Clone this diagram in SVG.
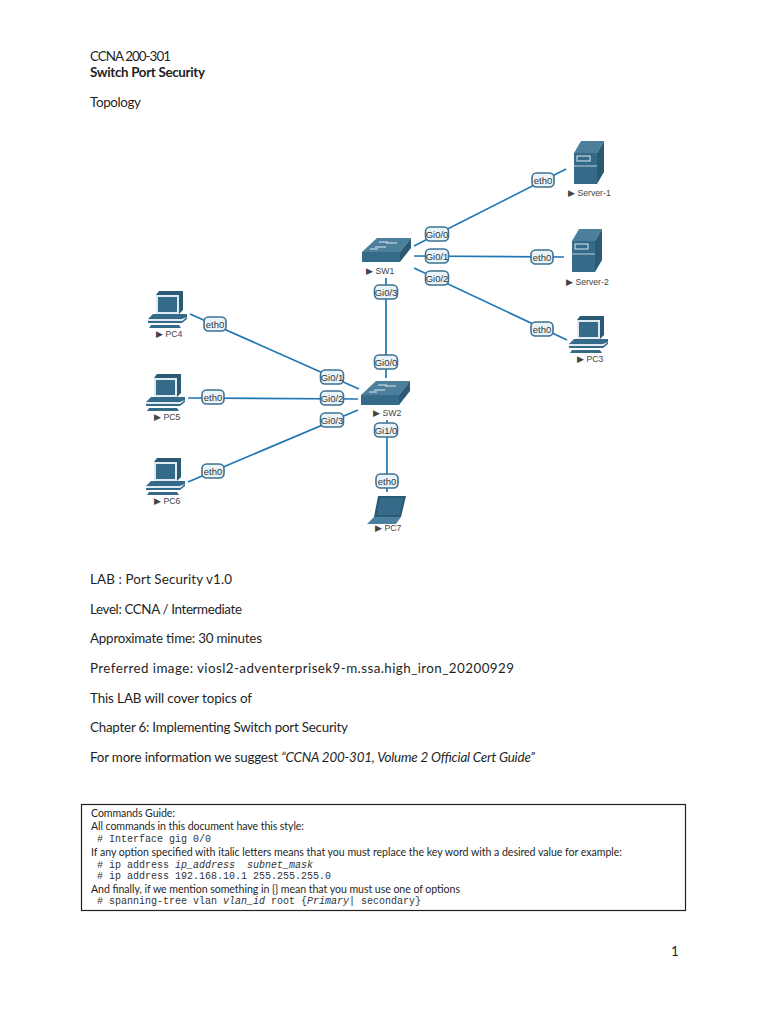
<svg xmlns="http://www.w3.org/2000/svg" width="768" height="1024" viewBox="0 0 768 1024">
<style>
text{font-family:Lato,"Liberation Sans",sans-serif;fill:#1f1f1f}
.d{font-size:13.4px}
.g{font-size:10.6px}
.m{font-family:"Liberation Mono",monospace;font-size:10px;fill:#333;white-space:pre}
.c line{stroke:#1f77b4;stroke-width:1.7}
.l rect{fill:#e8f3fa;stroke:#3f7191;stroke-width:1.6}
.l text{font-family:"Liberation Sans",sans-serif;font-size:9.5px;fill:#333;text-anchor:middle}
.n{font-family:"Liberation Sans",sans-serif;font-size:8.700px;fill:#444}
.k{fill:#356b89}.h{fill:#4b7f9c}.w{fill:#dfeaf1}.e{fill:#2b5a75}
</style>
<defs>
<symbol id="sw" overflow="visible"><path class="h" d="M0 14L15 0H49L38 14Z"/><path class="k" d="M0 14H38V24H0Z"/><path class="e" d="M38 14L49 0V10L38 24Z"/><path d="M13 9h11M24 5h11M17 4h9M8 11h8" stroke="#dfeaf1" stroke-width="1" fill="none"/></symbol>
<symbol id="srv" overflow="visible"><path class="h" d="M0 12L7 0H30L23 12Z"/><path class="e" d="M23 12L30 0V31L23 43Z"/><path class="k" d="M0 12H23V43H0Z"/><rect x="3" y="15" width="13" height="5" fill="#356b89" stroke="#dfeaf1"/><path d="M0 25H23" stroke="#dfeaf1" stroke-width=".8"/></symbol>
<symbol id="pc" overflow="visible"><path class="e" d="M8 5L11 1H35V20L31 24H8Z"/><path class="w" d="M8 5H31V24H8Z"/><rect x="10" y="7" width="19" height="15" class="k"/><path class="k" d="M0 29L5 24H39V27L34 29Z"/><path class="w" d="M0 29H34V31H0Z"/><path class="k" d="M0 31H34L39 27V29L34 33H0Z"/><path class="k" d="M3 35H31L33 38H1Z"/></symbol>
<symbol id="lap" overflow="visible"><path class="e" d="M11 2H39L34 23H7Z"/><path class="k" d="M13 4H36L32 21H10Z"/><path class="h" d="M7 23H34L29 30H0Z"/></symbol>
</defs>
<rect width="768" height="1024" fill="#fff"/>
<g id="page-text">
<text class="d" x="90" y="61" textLength="81">CCNA 200-301</text>
<text class="d" x="90" y="77" textLength="115" font-weight="700">Switch Port Security</text>
<text class="d" x="90" y="107" textLength="51">Topology</text>
<text class="d" x="90" y="583.500" textLength="142">LAB : Port Security v1.0</text>
<text class="d" x="90" y="613.500" textLength="152">Level: CCNA / Intermediate</text>
<text class="d" x="90" y="642.500" textLength="172">Approximate time: 30 minutes</text>
<text class="d" x="90" y="672.500" textLength="424">Preferred image: viosl2-adventerprisek9-m.ssa.high_iron_20200929</text>
<text class="d" x="90" y="702.500" textLength="162">This LAB will cover topics of</text>
<text class="d" x="90" y="731.500" textLength="258">Chapter 6: Implementing Switch port Security</text>
<text class="d" x="90" y="761.500" textLength="445">For more information we suggest <tspan font-style="italic">“CCNA 200-301, Volume 2 Official Cert Guide”</tspan></text>
<text class="d" x="671" y="956">1</text>
</g>
<g id="connectors" class="c">
<line x1="414" y1="246" x2="566" y2="169"/>
<line x1="414" y1="256" x2="564" y2="257"/>
<line x1="414" y1="268" x2="567" y2="340"/>
<line x1="386" y1="278" x2="386" y2="378"/>
<line x1="190" y1="314" x2="359" y2="389"/>
<line x1="188" y1="398" x2="358" y2="399"/>
<line x1="188" y1="482" x2="358" y2="410"/>
<line x1="387" y1="420" x2="387" y2="492"/>
</g>
<g id="SW1"><use href="#sw" x="362" y="238"/><text class="n" x="366" y="274">▶ SW1</text></g>
<g id="SW2"><use href="#sw" x="361" y="381"/><text class="n" x="373" y="416">▶ SW2</text></g>
<g id="Server-1"><use href="#srv" x="574" y="141"/><text class="n" x="568" y="196">▶ Server-1</text></g>
<g id="Server-2"><use href="#srv" x="572" y="229"/><text class="n" x="566" y="285">▶ Server-2</text></g>
<g id="PC3"><use href="#pc" x="569" y="315"/><text class="n" x="577" y="362">▶ PC3</text></g>
<g id="PC4"><use href="#pc" x="148" y="290"/><text class="n" x="156" y="337">▶ PC4</text></g>
<g id="PC5"><use href="#pc" x="146" y="373"/><text class="n" x="154" y="420">▶ PC5</text></g>
<g id="PC6"><use href="#pc" x="146" y="457"/><text class="n" x="154" y="504">▶ PC6</text></g>
<g id="PC7"><use href="#lap" x="367" y="494"/><text class="n" x="375" y="531">▶ PC7</text></g>
<g id="labels" class="l">
<g><rect x="425.500" y="227" width="23" height="14" rx="4.500"/><text x="437" y="237.500">Gi0/0</text></g>
<g><rect x="425.500" y="249" width="23" height="14" rx="4.500"/><text x="437" y="259.500">Gi0/1</text></g>
<g><rect x="425.500" y="271" width="23" height="14" rx="4.500"/><text x="437" y="281.500">Gi0/2</text></g>
<g><rect x="374.500" y="285" width="23" height="14" rx="4.500"/><text x="386" y="295.500">Gi0/3</text></g>
<g><rect x="374.500" y="355" width="23" height="14" rx="4.500"/><text x="386" y="365.500">Gi0/0</text></g>
<g><rect x="320.500" y="370" width="23" height="14" rx="4.500"/><text x="332" y="380.500">Gi0/1</text></g>
<g><rect x="320.500" y="391" width="23" height="14" rx="4.500"/><text x="332" y="401.500">Gi0/2</text></g>
<g><rect x="320.500" y="413" width="23" height="14" rx="4.500"/><text x="332" y="423.500">Gi0/3</text></g>
<g><rect x="374.500" y="423" width="23" height="14" rx="4.500"/><text x="386" y="433.500">Gi1/0</text></g>
<g><rect x="532" y="173" width="22" height="14" rx="4.500"/><text x="543" y="183.500">eth0</text></g>
<g><rect x="531" y="250" width="22" height="14" rx="4.500"/><text x="542" y="260.500">eth0</text></g>
<g><rect x="531" y="322" width="22" height="14" rx="4.500"/><text x="542" y="332.500">eth0</text></g>
<g><rect x="204" y="317" width="22" height="14" rx="4.500"/><text x="215" y="327.500">eth0</text></g>
<g><rect x="202" y="390" width="22" height="14" rx="4.500"/><text x="213" y="400.500">eth0</text></g>
<g><rect x="202" y="464" width="22" height="14" rx="4.500"/><text x="213" y="474.500">eth0</text></g>
<g><rect x="376" y="474" width="22" height="14" rx="4.500"/><text x="387" y="484.500">eth0</text></g>
</g>
<g id="commands-guide">
<rect x="81.500" y="804.500" width="604" height="106" fill="#fff" stroke="#222" stroke-width="1.200"/>
<text class="g" x="91" y="816.500" textLength="84">Commands Guide:</text>
<text class="g" x="91" y="830" textLength="213">All commands in this document have this style:</text>
<text class="m" x="97" y="842"># Interface gig 0/0</text>
<text class="g" x="91" y="856" textLength="531">If any option specified with italic letters means that you must replace the key word with a desired value for example:</text>
<text class="m" x="97" y="868"># ip address <tspan font-style="italic">ip_address  subnet_mask</tspan></text>
<text class="m" x="97" y="879"># ip address 192.168.10.1 255.255.255.0</text>
<text class="g" x="91" y="893" textLength="369">And finally, if we mention something in {} mean that you must use one of options</text>
<text class="m" x="97" y="904"># spanning-tree vlan <tspan font-style="italic">vlan_id</tspan> root {<tspan font-style="italic">Primary</tspan>| secondary}</text>
</g>
</svg>
